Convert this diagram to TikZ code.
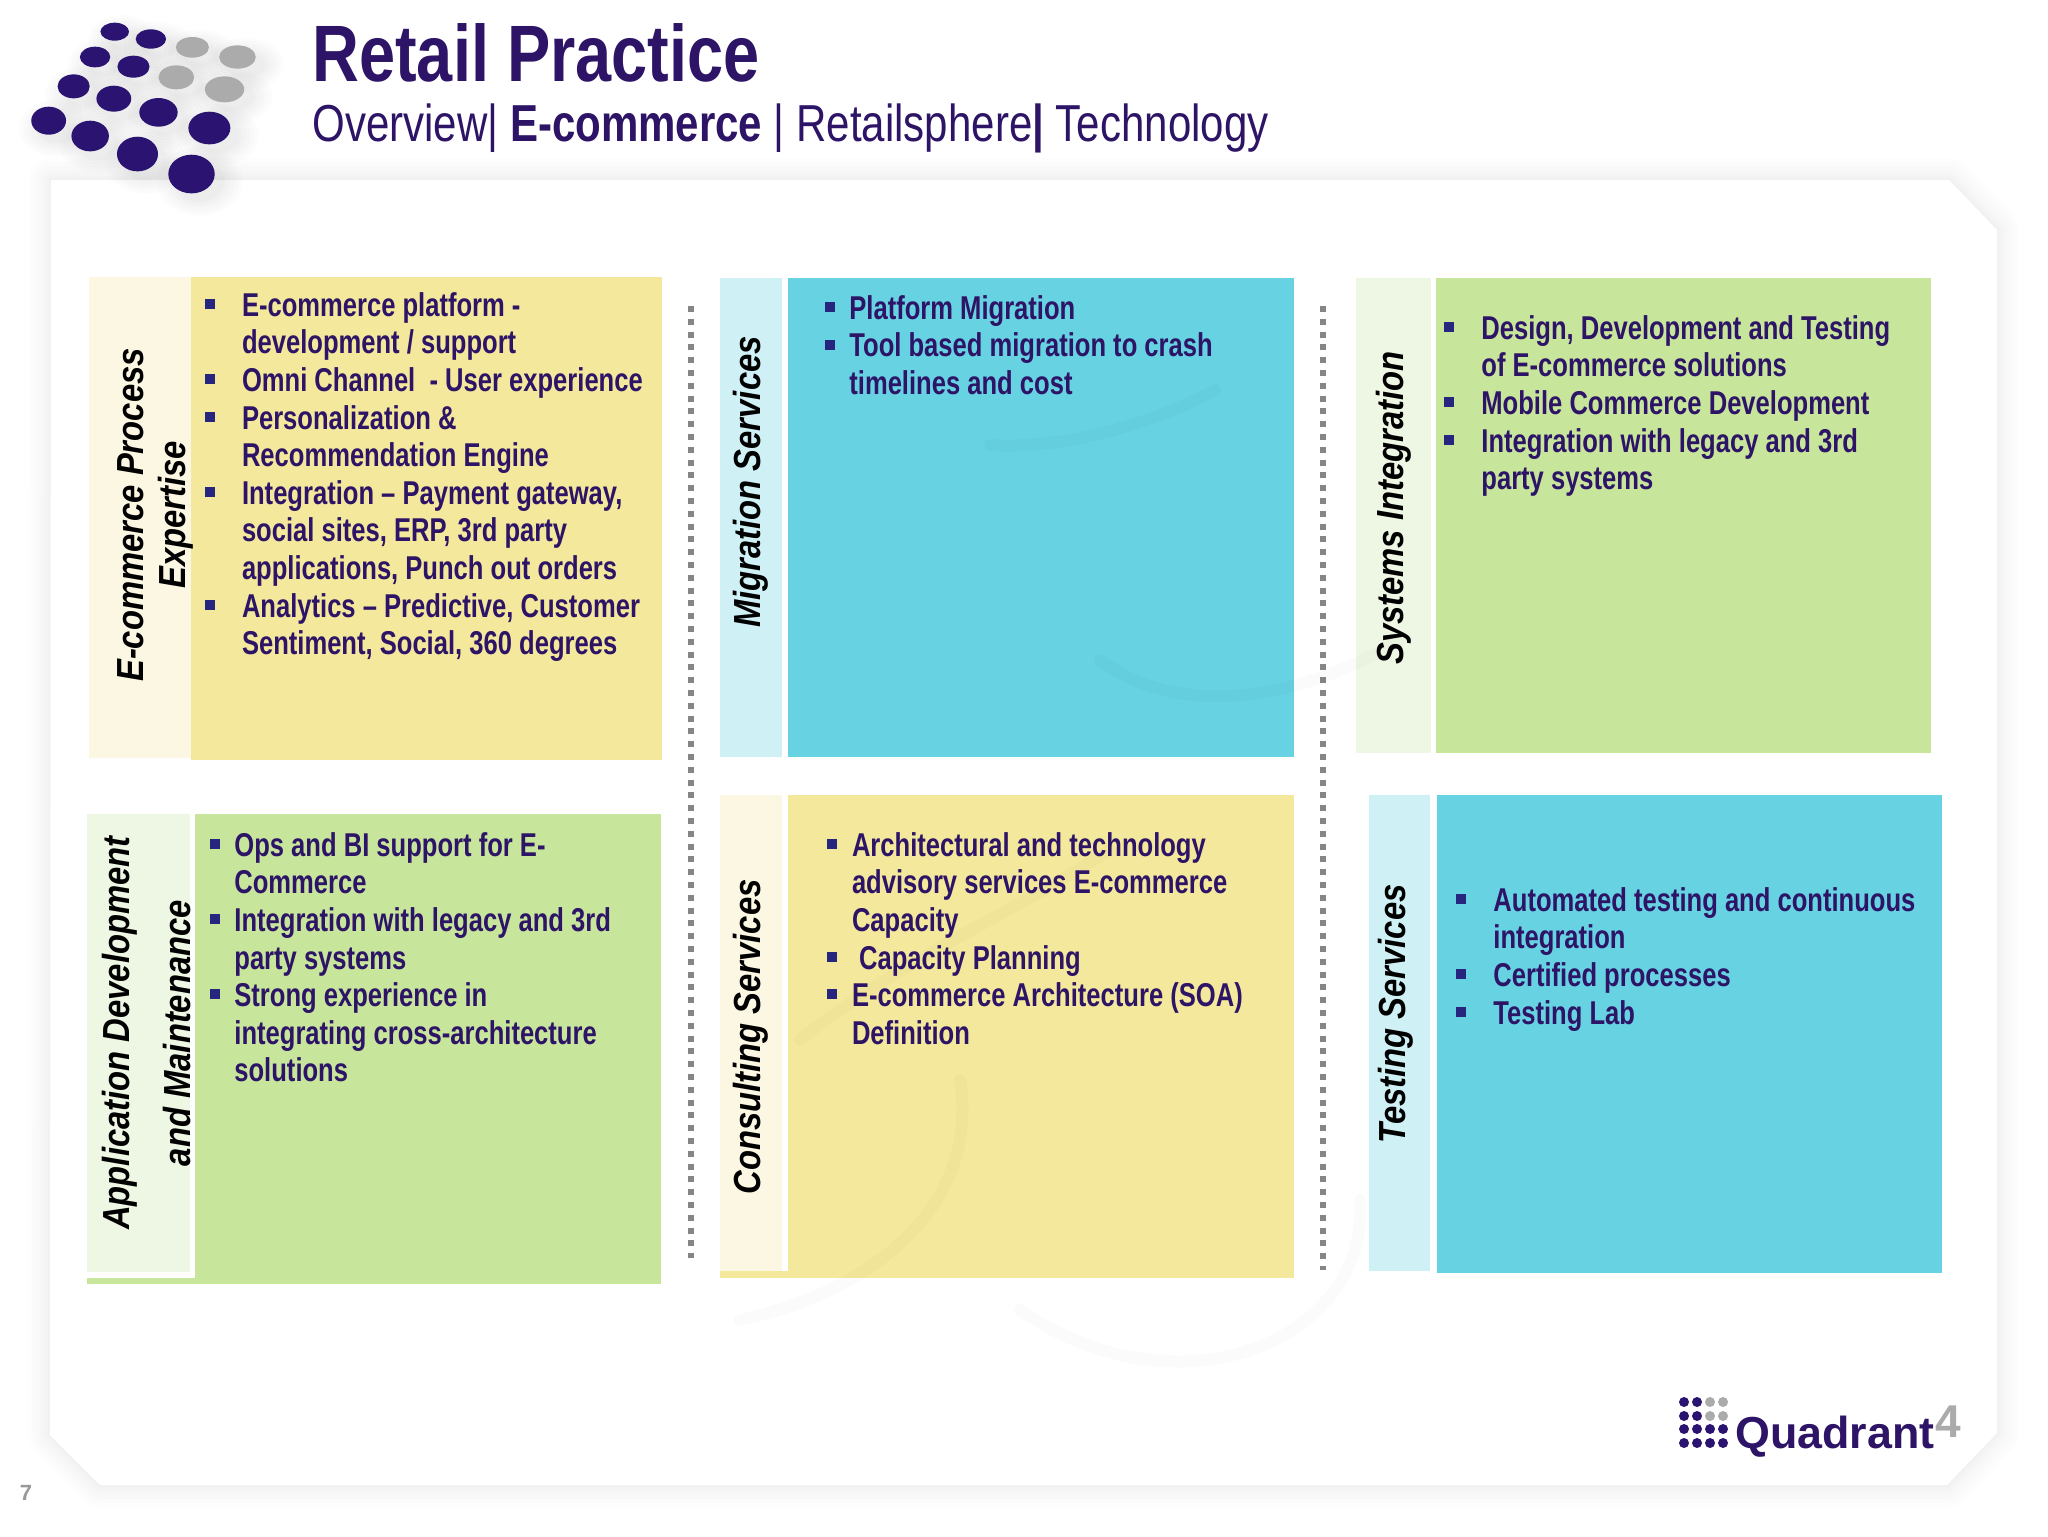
\documentclass[tikz,border=0pt]{standalone}
\usepackage{fontspec}
\setmainfont{Liberation Sans}
\newfontfamily\narrowf[FakeStretch=0.775]{Liberation Sans}
\newfontfamily\subf[FakeStretch=0.808]{Liberation Sans}
\newfontfamily\titlef[FakeStretch=0.811]{Liberation Sans}
\newfontfamily\headf[FakeStretch=0.87]{Liberation Sans}
\definecolor{ink}{HTML}{2D1466}
\definecolor{bulletc}{HTML}{26267F}
\definecolor{yel}{HTML}{F3E89B}
\definecolor{yelh}{HTML}{FBF7E2}
\definecolor{grn}{HTML}{C7E69C}
\definecolor{grnh}{HTML}{EDF7E3}
\definecolor{blu}{HTML}{66D2E2}
\definecolor{bluh}{HTML}{CFF1F5}
\definecolor{dotg}{HTML}{ABABAB}
\newlength\hangw
\newcommand{\bl}{\makebox[\hangw][l]{\raisebox{.22em}{\textcolor{bulletc}{\rule{5pt}{5pt}}}}}
\newcommand{\ct}{\hspace*{\hangw}}
\tikzset{
  bodytext/.style={text=ink,inner sep=0pt,anchor=north west,align=left,
    font=\narrowf\fontsize{16.5pt}{18.8pt}\selectfont\bfseries\setlength{\hangw}{#1}},
  headtext/.style={text=black,inner sep=0pt,rotate=90,align=center,
    font=\headf\fontsize{18.85pt}{#1}\selectfont\bfseries\itshape},
  dotline/.style={draw=gray!95,line width=3pt,dash pattern=on 3pt off 3.4pt},
  swirl/.style={draw=black,opacity=.014,line width=6pt,line cap=round}
}
\begin{document}
\begin{tikzpicture}[x=0.5pt,y=-0.5pt]
\useasboundingbox (0,0) rectangle (2048,1536);
\fill[white] (0,0) rectangle (2048,1536);
% panel
\def\panel{(51,180) -- (1949,180) -- (1997,230) -- (1997,1433) -- (1947,1485) -- (100,1485) -- (50,1435) -- cycle}
\foreach \w in {22,18,14,10,7,4,2}{
  \draw[black,opacity=.009,line width=\w pt,line join=round] \panel;
}
\fill[white] \panel;
% logo
\begin{scope}[x=0.2232pt,y=-0.1667pt]
  \foreach \cx/\cy/\rx/\ry in {257/95/32/27,338/117/34/29,213/171/34/31,299/200/36/33,165/259/36/36,255/296/39/39,355/337/43/43,109/362/39/42,202/408/42/46,469/384/47/49,308/462/46/52,429/522/52/58,431/142/37/31,532/171/41/35,395/232/40/36,503/268/44/39}{
    \foreach \g in {30,24,18,12,6,2}{
      \fill[black,opacity=.012] (\cx+18,\cy+22) ellipse [x radius=\rx+\g*1.5,y radius=\ry+\g*1.5];
    }
  }
  \foreach \cx/\cy/\rx/\ry in {431/142/37/31,532/171/41/35,395/232/40/36,503/268/44/39}{
    \fill[dotg] (\cx,\cy) ellipse [x radius=\rx,y radius=\ry];
  }
  \foreach \cx/\cy/\rx/\ry in {257/95/32/27,338/117/34/29,213/171/34/31,299/200/36/33,165/259/36/36,255/296/39/39,355/337/43/43,109/362/39/42,202/408/42/46,469/384/47/49,308/462/46/52,429/522/52/58}{
    \fill[ink!93!blue] (\cx,\cy) ellipse [x radius=\rx,y radius=\ry];
  }
\end{scope}
% title
\node[text=ink,inner sep=0pt,anchor=base west,font=\titlef\fontsize{40pt}{44pt}\selectfont\bfseries] (title) at (312,82) {Retail Practice};
\node[text=ink,inner sep=0pt,anchor=base west,font=\subf\fontsize{26pt}{30pt}\selectfont] (subtitle) at (312,141) {Overview| \textbf{E-commerce} | Retailsphere\textbf{|} Technology};
% boxes
\fill[yelh] (89,277) rectangle (191,758);
\fill[yel] (191,277) rectangle (662,760);
\fill[grn] (87,814) rectangle (661,1284);
\fill[white] (87,814) rectangle (195,1278);
\fill[grnh] (87,814) rectangle (190,1272);
\fill[bluh] (720,278) rectangle (782,757);
\fill[blu] (788,278) rectangle (1294,757);
\fill[yel] (720,1271) rectangle (1294,1278);
\fill[yelh] (720,795) rectangle (782,1271);
\fill[yel] (788,795) rectangle (1294,1278);
\fill[grnh] (1356,278) rectangle (1431,753);
\fill[grn] (1436,278) rectangle (1931,753);
\fill[bluh] (1369,795) rectangle (1430,1271);
\fill[blu] (1437,795) rectangle (1942,1273);
% dotted separators
\coordinate (s1a) at (691,306); \coordinate (s1b) at (691,1258);
\coordinate (s2a) at (1323,306); \coordinate (s2b) at (1323,1270);
\draw[dotline] (s1a) -- (s1b);
\draw[dotline] (s2a) -- (s2b);
% watermark
\draw[swirl] (1360,1200) .. controls (1370,1340) and (1180,1420) .. (1020,1310);
\draw[swirl] (960,1080) .. controls (980,1200) and (880,1290) .. (740,1320);
\draw[swirl] (800,1040) .. controls (900,960) and (1000,920) .. (1110,850);
\draw[swirl] (1215,390) .. controls (1160,420) and (1070,450) .. (990,445);
\draw[swirl] (1100,660) .. controls (1180,720) and (1300,700) .. (1400,640);
% headers
\node[headtext=21pt] (h1) at (155,515) {E-commerce Process\\Expertise};
\node[headtext=30.5pt] (h2) at (147,1033) {Application Development\\and Maintenance};
\node[headtext=20pt] (h3) at (751,482) {Migration Services};
\node[headtext=20pt] (h4) at (751,1037) {Consulting Services};
\node[headtext=20pt] (h5) at (1394,508) {Systems Integration};
\node[headtext=20pt] (h6) at (1396,1014) {Testing Services};
% bodies
\node[bodytext=18.3pt] (b1) at (205,292) {\bl E-commerce platform -\\\ct development / support\\\bl Omni Channel\ \ - User experience\\\bl Personalization \&\\\ct Recommendation Engine\\\bl Integration – Payment gateway,\\\ct social sites, ERP, 3rd party\\\ct applications, Punch out orders\\\bl Analytics – Predictive, Customer\\\ct Sentiment, Social, 360 degrees};
\node[bodytext=12pt] (b2) at (210,832) {\bl Ops and BI support for E-\\\ct Commerce\\\bl Integration with legacy and 3rd\\\ct party systems\\\bl Strong experience in\\\ct integrating cross-architecture\\\ct solutions};
\node[bodytext=12pt] (b3) at (825,295) {\bl Platform Migration\\\bl Tool based migration to crash\\\ct timelines and cost};
\node[bodytext=12.3pt] (b4) at (827,832) {\bl Architectural and technology\\\ct advisory services E-commerce\\\ct Capacity\\\bl\ Capacity Planning\\\bl E-commerce Architecture (SOA)\\\ct Definition};
\node[bodytext=18.5pt] (b5) at (1444,315) {\bl Design, Development and Testing\\\ct of E-commerce solutions\\\bl Mobile Commerce Development\\\bl Integration with legacy and 3rd\\\ct party systems};
\node[bodytext=18.5pt] (b6) at (1456,887) {\bl Automated testing and continuous\\\ct integration\\\bl Certified processes\\\bl Testing Lab};
% footer logo
\foreach \xx in {1684,1697,1710,1723}{
  \foreach \yy in {1429,1443}{ \fill[ink!93!blue] (\xx,\yy) circle [radius=5]; }
}
\foreach \xx in {1684,1697}{
  \foreach \yy in {1402,1416}{ \fill[ink!93!blue] (\xx,\yy) circle [radius=5]; }
}
\foreach \xx in {1710,1723}{
  \foreach \yy in {1402,1416}{ \fill[dotg] (\xx,\yy) circle [radius=5]; }
}
\node[text=ink,inner sep=0pt,anchor=base west,font=\fontsize{22.4pt}{26pt}\selectfont\bfseries] (quad) at (1735,1448) {Quadrant};
\node[text=dotg,inner sep=0pt,anchor=base west,font=\fontsize{23pt}{26pt}\selectfont\bfseries] (four) at (1935,1437) {4};
\node[text=gray!80,inner sep=0pt,font=\fontsize{11pt}{13pt}\selectfont\bfseries] (pg) at (26,1493) {7};
\end{tikzpicture}
\end{document}
